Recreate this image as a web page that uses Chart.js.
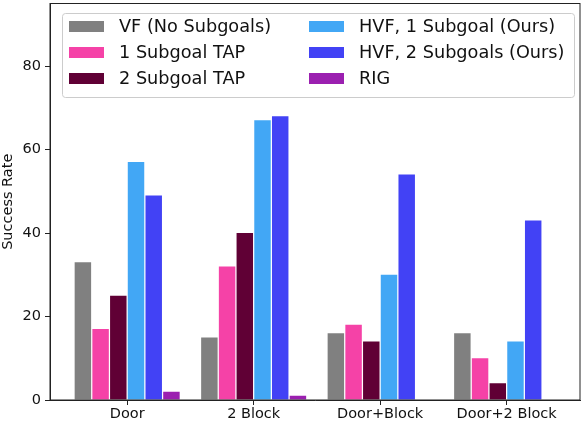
<!DOCTYPE html>
<html lang="en">

<head>
  <meta charset="UTF-8">
  <title>Success Rate</title>
  <script src="https://cdn.jsdelivr.net/npm/chart.js"></script>
  <style>
    body { margin: 0; background: #fff; }
  </style>
</head>

<body>
  <canvas id="successChart" width="588" height="424"></canvas>
  <script>
    // task names on the x axis
    const tasks = ['Door', '2 Block', 'Door+Block', 'Door+2 Block'];

    // success rate of every method, one value per task
    const vfNoSubgoals = [33, 15, 16, 16];
    const tap1Subgoal = [17, 32, 18, 10];
    const tap2Subgoal = [25, 40, 14, 4];
    const hvf1Subgoal = [57, 67, 30, 14];
    const hvf2Subgoals = [49, 68, 54, 43];
    const rig = [2, 1, 0, 0];

    const yTicks = [0, 20, 40, 60, 80];

    const series = [
      { label: 'VF (No Subgoals)', values: vfNoSubgoals, color: '#808080' },
      { label: '1 Subgoal TAP', values: tap1Subgoal, color: '#f542a7' },
      { label: '2 Subgoal TAP', values: tap2Subgoal, color: '#600035' },
      { label: 'HVF, 1 Subgoal (Ours)', values: hvf1Subgoal, color: '#42a7f5' },
      { label: 'HVF, 2 Subgoals (Ours)', values: hvf2Subgoals, color: '#4242f5' },
      { label: 'RIG', values: rig, color: '#9b20b0' },
    ];

    const FONT = 'DejaVu Sans';

    // box around the whole plot area (matplotlib style frame)
    const framePlugin = {
      id: 'frame',
      afterDraw(chart) {
        const { ctx, chartArea: a } = chart;
        ctx.save();
        ctx.strokeStyle = '#222';
        ctx.lineWidth = 1;
        ctx.strokeRect(a.left, a.top, a.right - a.left, a.bottom - a.top);
        ctx.restore();
      }
    };

    // legend in two columns, filled column by column
    const legendPlugin = {
      id: 'twoColLegend',
      afterDraw(chart) {
        const ctx = chart.ctx;
        const box = { x: 62, y: 13, w: 512, h: 84 };
        ctx.save();
        ctx.fillStyle = 'rgba(255,255,255,0.8)';
        ctx.strokeStyle = '#cccccc';
        ctx.lineWidth = 1;
        ctx.beginPath();
        ctx.roundRect(box.x + 0.5, box.y + 0.5, box.w, box.h, 3);
        ctx.fill();
        ctx.stroke();

        ctx.font = '17.7px "' + FONT + '"';
        ctx.textBaseline = 'middle';
        const colX = [69, 309];
        const rowY = [26.5, 52.5, 78.5];
        chart.data.datasets.forEach((ds, i) => {
          const col = Math.floor(i / 3);
          const row = i % 3;
          ctx.fillStyle = ds.backgroundColor;
          ctx.fillRect(colX[col], rowY[row] - 5.5, 35, 11);
          ctx.fillStyle = '#111';
          ctx.fillText(ds.label, colX[col] + 50, rowY[row] + 1);
        });
        ctx.restore();
      }
    };

    const ctx = document.getElementById('successChart').getContext('2d');

    new Chart(ctx, {
      type: 'bar',
      data: {
        datasets: series.map(s => ({
          label: s.label,
          data: s.values.map((v, i) => ({ x: i, y: v })),
          backgroundColor: s.color,
          borderWidth: 0,
          categoryPercentage: 0.84,
          barPercentage: 0.93,
        }))
      },
      options: {
        responsive: false,
        animation: false,
        devicePixelRatio: 1,
        layout: { padding: { top: 3.5, right: 8, left: 0, bottom: 0 } },
        plugins: {
          legend: { display: false },
          tooltip: { enabled: false },
        },
        scales: {
          x: {
            type: 'linear',
            min: -0.61,
            max: 3.58,
            offset: false,
            afterBuildTicks: axis => {
              axis.ticks = tasks.map((_, i) => ({ value: i }));
            },
            afterFit: axis => {
              axis.height = 24;
              axis.paddingLeft = 0;
              axis.paddingRight = 0;
            },
            ticks: {
              callback: v => tasks[v],
              color: '#111',
              font: { family: FONT, size: 14.5 },
              padding: 1,
              maxRotation: 0,
              autoSkip: false,
            },
            grid: {
              offset: false,
              drawOnChartArea: false,
              tickLength: 5,
              color: '#222',
            },
            border: { color: '#222', width: 1 },
          },
          y: {
            min: 0,
            max: 95,
            afterBuildTicks: axis => {
              axis.ticks = yTicks.map(v => ({ value: v }));
            },
            afterFit: axis => {
              axis.width = 50;
              axis.paddingTop = 0;
              axis.paddingBottom = 0;
            },
            ticks: {
              color: '#111',
              font: { family: FONT, size: 14.5 },
              padding: 4,
            },
            grid: {
              drawOnChartArea: false,
              tickLength: 5,
              color: '#222',
            },
            border: { color: '#222', width: 1 },
            title: {
              display: true,
              text: 'Success Rate',
              color: '#111',
              font: { family: FONT, size: 14.5 },
              padding: { top: 0, bottom: 1 },
            },
          }
        }
      },
      plugins: [framePlugin, legendPlugin]
    });
  </script>
</body>

</html>
